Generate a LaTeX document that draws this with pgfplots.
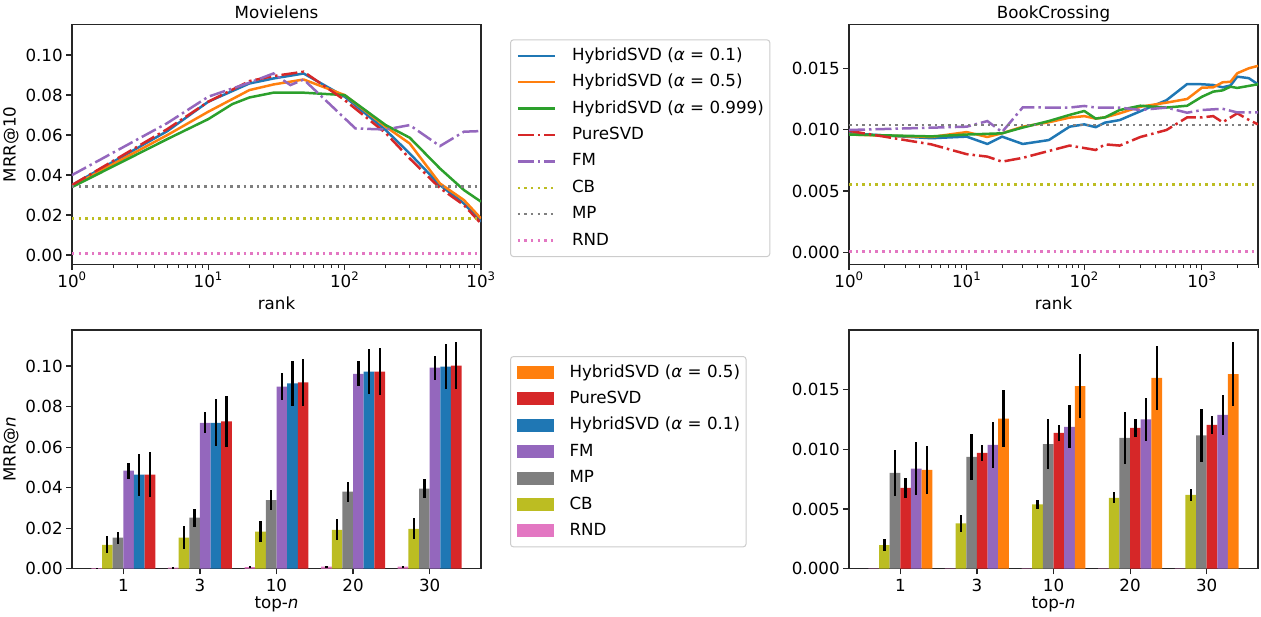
\documentclass[border=0pt]{standalone}
\usepackage{pgfplots}
\usepackage{pgfplotstable}
\pgfplotsset{compat=1.18}
\usepackage{fontspec}
\setmainfont{DejaVu Sans}

\definecolor{tBlue}{HTML}{1F77B4}
\definecolor{tOrange}{HTML}{FF7F0E}
\definecolor{tGreen}{HTML}{2CA02C}
\definecolor{tRed}{HTML}{D62728}
\definecolor{tPurple}{HTML}{9467BD}
\definecolor{tGray}{HTML}{7F7F7F}
\definecolor{tOlive}{HTML}{BCBD22}
\definecolor{tPink}{HTML}{E377C2}

\newcommand{\fs}{\fontsize{16.7}{20}\selectfont}

\pgfplotsset{
  mpl/.style={
    scale only axis,
    anchor=south west,
    font=\fs,
    tick label style={font=\fs},
    /pgf/number format/assume math mode=true,
    scaled y ticks=false,
    axis line style={line width=1.2pt, black!85},
    every tick/.style={line width=1.2pt, black!85},
    every minor tick/.style={line width=0.9pt, black!85},
    major tick length=5.8pt,
    minor tick length=3.3pt,
    tick align=outside,
    tick pos=left,
    title style={anchor=base, at={(axis description cs:0.5,1)}, font=\fs},
    xlabel style={anchor=base, at={(axis description cs:0.5,0)}, yshift=-45pt, font=\fs},
    ylabel style={font=\fs},
    xticklabel style={anchor=base, yshift=-17pt},
  },
  prec2/.style={yticklabel style={/pgf/number format/fixed, /pgf/number format/fixed zerofill, /pgf/number format/precision=2}},
  prec3/.style={yticklabel style={/pgf/number format/fixed, /pgf/number format/fixed zerofill, /pgf/number format/precision=3}},
  sl/.style={line width=2.5pt, line join=round},
  dd/.style={line width=2.5pt, dash pattern=on 16pt off 4pt on 2.5pt off 4pt},
  dt/.style={line width=2.5pt, dash pattern=on 2.5pt off 4.1pt},
  bars/.style={ybar, bar width=0.139, draw=none, forget plot},
  errs/.style={forget plot, draw=none, mark=none,
    error bars/y dir=both, error bars/y explicit, error bars/error mark=none,
    error bars/error bar style={draw=black, solid, line width=2.3pt}},
  barax/.style={
    xmin=-0.67, xmax=4.67, ymin=0,
    xtick={0,1,2,3,4}, xticklabels={1,3,10,20,30},
    xlabel={top-\textit{n}},
    xlabel style={yshift=5pt},
  },
}

\pgfplotstableread{
x rnd rnde cb cbe mp mpe fm fme hb hbe ps pse
0 0.0003 0.0002 0.0118 0.0043 0.0153 0.0030 0.0484 0.0040 0.0464 0.0103 0.0464 0.0110
1 0.0005 0.0003 0.0153 0.0056 0.0252 0.0045 0.0720 0.0052 0.0720 0.0116 0.0727 0.0125
2 0.0008 0.0003 0.0183 0.0053 0.0339 0.0051 0.0898 0.0066 0.0914 0.0112 0.0919 0.0118
3 0.0010 0.0003 0.0192 0.0052 0.0380 0.0049 0.0962 0.0061 0.0972 0.0110 0.0972 0.0115
4 0.0010 0.0003 0.0197 0.0051 0.0395 0.0048 0.0992 0.0060 0.0997 0.0111 0.1002 0.0117
}\mlbars

\pgfplotstableread{
x rnd rnde cb cbe mp mpe ps pse fm fme hb hbe
0 0.00002 0.00002 0.00198 0.0005 0.00803 0.0019 0.00677 0.00086 0.00839 0.00224 0.00828 0.0020
1 0.00002 0.00002 0.00379 0.0007 0.00937 0.0019 0.00970 0.0007 0.01037 0.0019 0.01257 0.00237
2 0.00002 0.00002 0.00538 0.0004 0.01043 0.0021 0.01137 0.0007 0.01188 0.0018 0.01530 0.00265
3 0.00002 0.00002 0.00594 0.00047 0.01096 0.0022 0.01179 0.00074 0.01252 0.0018 0.01598 0.0027
4 0.00002 0.00002 0.00619 0.0005 0.01118 0.0022 0.01204 0.00077 0.01288 0.0017 0.01631 0.00266
}\bcbars

\begin{document}
\begin{tikzpicture}
\useasboundingbox (0,0) rectangle (1261pt,617pt);

% ---------------- Movielens lines
\begin{axis}[mpl, prec2, at={(72pt,352.7pt)}, width=409pt, height=240pt,
  xmode=log, xmin=1, xmax=1000, ymin=-0.0046, ymax=0.1154,
  xtick={1,10,100,1000},
  xticklabels={10\textsuperscript{0},10\textsuperscript{1},10\textsuperscript{2},10\textsuperscript{3}},
  minor xtick={2,3,4,5,6,7,8,9,20,30,40,50,60,70,80,90,200,300,400,500,600,700,800,900},
  ytick={0,0.02,0.04,0.06,0.08,0.1},
  title=Movielens, xlabel=rank, ylabel={MRR@10},
  legend cell align=left,
  legend image code/.code={\draw[#1] (0pt,0pt) -- (37pt,0pt);},
  legend style={at={(1.071,0.9375)}, anchor=north west, draw=black!20, line width=1pt,
    rounded corners=3pt, font=\fs, inner xsep=6pt, inner ysep=8pt,
    row sep=10.4pt, column sep=16pt,
    nodes={inner sep=0pt, text height=12.5pt, text depth=3.5pt}},
]
\addplot[sl, tBlue] coordinates {(1,0.0350)(5,0.0620)(10,0.0767)(20,0.0858)(30,0.0883)(50,0.0908)(100,0.0792)(200,0.0625)(300,0.0508)(500,0.0350)(750,0.0258)(1000,0.0167)};
\addlegendentry{HybridSVD (\textit{α} = 0.1)}
\addplot[sl, tOrange] coordinates {(1,0.0345)(5,0.0600)(10,0.0717)(20,0.0825)(30,0.0853)(50,0.0878)(100,0.0800)(200,0.0642)(300,0.0558)(500,0.0358)(750,0.0275)(1000,0.0183)};
\addlegendentry{HybridSVD (\textit{α} = 0.5)}
\addplot[sl, tGreen] coordinates {(1,0.0340)(5,0.0580)(10,0.0680)(15,0.0755)(20,0.0788)(30,0.0812)(50,0.0812)(100,0.0800)(200,0.0650)(300,0.0587)(500,0.0433)(750,0.0325)(1000,0.0267)};
\addlegendentry{HybridSVD (\textit{α} = 0.999)}
\addplot[dd, tRed] coordinates {(1,0.0350)(5,0.0630)(10,0.0767)(20,0.0870)(30,0.0895)(50,0.0917)(100,0.0775)(200,0.0610)(300,0.0483)(500,0.0335)(750,0.0250)(1000,0.0158)};
\addlegendentry{PureSVD}
\addplot[dd, tPurple] coordinates {(1,0.0400)(5,0.0660)(10,0.0792)(20,0.0862)(30,0.0908)(40,0.0850)(50,0.0878)(120,0.0633)(200,0.0628)(300,0.0650)(500,0.0545)(750,0.0617)(1000,0.0620)};
\addlegendentry{FM}
\addplot[dt, tOlive] coordinates {(1,0.0183)(1000,0.0183)};
\addlegendentry{CB}
\addplot[dt, tGray] coordinates {(1,0.0342)(1000,0.0342)};
\addlegendentry{MP}
\addplot[dt, tPink] coordinates {(1,0.0008)(1000,0.0008)};
\addlegendentry{RND}
\end{axis}

% ---------------- BookCrossing lines
\begin{axis}[mpl, prec3, at={(849pt,352.7pt)}, width=409pt, height=240pt,
  xmode=log, xmin=1, xmax=3000, ymin=-0.00098, ymax=0.01859,
  xtick={1,10,100,1000},
  xticklabels={10\textsuperscript{0},10\textsuperscript{1},10\textsuperscript{2},10\textsuperscript{3}},
  minor xtick={2,3,4,5,6,7,8,9,20,30,40,50,60,70,80,90,200,300,400,500,600,700,800,900,2000,3000},
  ytick={0,0.005,0.01,0.015},
  title=BookCrossing, xlabel=rank,
]
\addplot[sl, tBlue] coordinates {(1,0.0097)(5,0.0093)(10,0.00943)(15,0.00883)(20,0.00943)(30,0.00883)(50,0.00915)(75,0.01024)(100,0.01043)(125,0.0102)(150,0.01057)(200,0.01078)(300,0.0115)(500,0.0124)(750,0.01372)(1000,0.0137)(1250,0.01364)(1500,0.01345)(1750,0.0136)(2000,0.01432)(2500,0.0142)(3000,0.0137)};
\addplot[sl, tOrange] coordinates {(1,0.0096)(5,0.0094)(10,0.0098)(15,0.0094)(20,0.0097)(30,0.01024)(50,0.0106)(75,0.01098)(100,0.0111)(125,0.0109)(150,0.0110)(200,0.01133)(300,0.01187)(500,0.0122)(750,0.0125)(1000,0.01342)(1250,0.01345)(1500,0.01386)(1750,0.0139)(2000,0.0146)(2500,0.0150)(3000,0.0152)};
\addplot[sl, tGreen] coordinates {(1,0.0096)(5,0.00945)(10,0.0096)(20,0.0097)(30,0.01017)(50,0.0107)(75,0.0112)(100,0.01152)(125,0.0109)(150,0.0110)(200,0.0116)(300,0.01195)(500,0.0118)(750,0.01195)(1000,0.01268)(1250,0.0131)(1500,0.0132)(1750,0.0135)(2000,0.0134)(3000,0.0137)};
\addplot[dd, tRed] coordinates {(1,0.0099)(5,0.0088)(10,0.0080)(15,0.0078)(20,0.00739)(30,0.0077)(50,0.00826)(75,0.0087)(100,0.0085)(125,0.00834)(150,0.0088)(200,0.0087)(300,0.0094)(500,0.00997)(750,0.0110)(1000,0.0110)(1250,0.0111)(1500,0.0106)(2000,0.01133)(2500,0.0108)(3000,0.01043)};
\addplot[dd, tPurple] coordinates {(1,0.00997)(10,0.01024)(15,0.0107)(20,0.0098)(30,0.01182)(50,0.0118)(75,0.0118)(100,0.01193)(125,0.0118)(200,0.0118)(300,0.0116)(500,0.0118)(750,0.01138)(1000,0.0116)(1500,0.0117)(2000,0.0114)(3000,0.0114)};
\addplot[dt, tOlive] coordinates {(1,0.00554)(3000,0.00554)};
\addplot[dt, tGray] coordinates {(1,0.01038)(3000,0.01038)};
\addplot[dt, tPink] coordinates {(1,0.00005)(3000,0.00005)};
\end{axis}

% ---------------- Movielens bars
\begin{axis}[mpl, prec2, barax, at={(72pt,48.3pt)}, width=409pt, height=238.7pt,
  ymax=0.1178,
  ytick={0,0.02,0.04,0.06,0.08,0.1},
  ylabel={MRR@\textit{n}},
  legend cell align=left,
  legend style={at={(1.071,0.891)}, anchor=north west, draw=black!20, line width=1pt,
    rounded corners=3pt, font=\fs, inner xsep=6pt, inner ysep=8pt,
    row sep=10.4pt, column sep=16pt,
    nodes={inner sep=0pt, text height=12.5pt, text depth=3.5pt}},
]
\addplot[bars, fill=tPink, bar shift=-0.3475] table[x=x, y=rnd] {\mlbars};
\addplot[bars, fill=tOlive, bar shift=-0.2085] table[x=x, y=cb] {\mlbars};
\addplot[bars, fill=tGray, bar shift=-0.0695] table[x=x, y=mp] {\mlbars};
\addplot[bars, fill=tPurple, bar shift=0.0695] table[x=x, y=fm] {\mlbars};
\addplot[bars, fill=tBlue, bar shift=0.2085] table[x=x, y=hb] {\mlbars};
\addplot[bars, fill=tRed, bar shift=0.3475] table[x=x, y=ps] {\mlbars};
\addplot[errs] table[x expr=\thisrow{x}-0.3475, y=rnd, y error=rnde] {\mlbars};
\addplot[errs] table[x expr=\thisrow{x}-0.2085, y=cb, y error=cbe] {\mlbars};
\addplot[errs] table[x expr=\thisrow{x}-0.0695, y=mp, y error=mpe] {\mlbars};
\addplot[errs] table[x expr=\thisrow{x}+0.0695, y=fm, y error=fme] {\mlbars};
\addplot[errs] table[x expr=\thisrow{x}+0.2085, y=hb, y error=hbe] {\mlbars};
\addplot[errs] table[x expr=\thisrow{x}+0.3475, y=ps, y error=pse] {\mlbars};
\addlegendimage{legend image code/.code={\fill[tOrange, sharp corners] (0pt,-6pt) rectangle (36pt,6pt);}}
\addlegendentry{HybridSVD (\textit{α} = 0.5)}
\addlegendimage{legend image code/.code={\fill[tRed, sharp corners] (0pt,-6pt) rectangle (36pt,6pt);}}
\addlegendentry{PureSVD}
\addlegendimage{legend image code/.code={\fill[tBlue, sharp corners] (0pt,-6pt) rectangle (36pt,6pt);}}
\addlegendentry{HybridSVD (\textit{α} = 0.1)}
\addlegendimage{legend image code/.code={\fill[tPurple, sharp corners] (0pt,-6pt) rectangle (36pt,6pt);}}
\addlegendentry{FM}
\addlegendimage{legend image code/.code={\fill[tGray, sharp corners] (0pt,-6pt) rectangle (36pt,6pt);}}
\addlegendentry{MP}
\addlegendimage{legend image code/.code={\fill[tOlive, sharp corners] (0pt,-6pt) rectangle (36pt,6pt);}}
\addlegendentry{CB}
\addlegendimage{legend image code/.code={\fill[tPink, sharp corners] (0pt,-6pt) rectangle (36pt,6pt);}}
\addlegendentry{RND}
\end{axis}

% ---------------- BookCrossing bars
\begin{axis}[mpl, prec3, barax, at={(849pt,48.3pt)}, width=409pt, height=238.7pt,
  ymax=0.0200,
  ytick={0,0.005,0.01,0.015},
]
\addplot[bars, fill=tPink, bar shift=-0.3475] table[x=x, y=rnd] {\bcbars};
\addplot[bars, fill=tOlive, bar shift=-0.2085] table[x=x, y=cb] {\bcbars};
\addplot[bars, fill=tGray, bar shift=-0.0695] table[x=x, y=mp] {\bcbars};
\addplot[bars, fill=tRed, bar shift=0.0695] table[x=x, y=ps] {\bcbars};
\addplot[bars, fill=tPurple, bar shift=0.2085] table[x=x, y=fm] {\bcbars};
\addplot[bars, fill=tOrange, bar shift=0.3475] table[x=x, y=hb] {\bcbars};
\addplot[errs] table[x expr=\thisrow{x}-0.2085, y=cb, y error=cbe] {\bcbars};
\addplot[errs] table[x expr=\thisrow{x}-0.0695, y=mp, y error=mpe] {\bcbars};
\addplot[errs] table[x expr=\thisrow{x}+0.0695, y=ps, y error=pse] {\bcbars};
\addplot[errs] table[x expr=\thisrow{x}+0.2085, y=fm, y error=fme] {\bcbars};
\addplot[errs] table[x expr=\thisrow{x}+0.3475, y=hb, y error=hbe] {\bcbars};
\end{axis}
\end{tikzpicture}
\end{document}
